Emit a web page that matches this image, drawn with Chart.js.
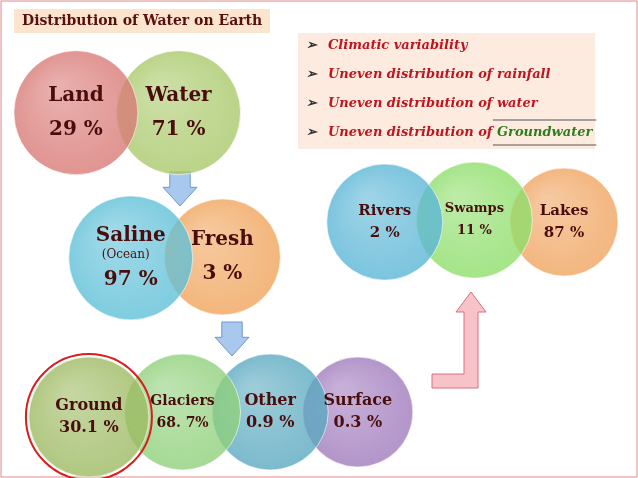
<!DOCTYPE html>
<html><head><meta charset="utf-8">
<script src="https://cdn.jsdelivr.net/npm/chart.js@4"></script>
<style>html,body{margin:0;padding:0;background:#fff}#wrap{width:638px;height:478px;position:relative}</style>
</head><body><div id="wrap"><canvas id="c"></canvas></div>
<script>
// data
const labels = ['Land','Water','Saline','Fresh','Ground','Glaciers','Other','Surface','Rivers','Swamps','Lakes'];
const values = ['29 %','71 %','97 %','3 %','30.1 %','68. 7%','0.9 %','0.3 %','2 %','11 %','87 %'];
const notes = ['Climatic variability','Uneven distribution of rainfall','Uneven distribution of water','Uneven distribution of '];

// layout
const pos = [[75,112,62],[178,112,62],[130,258,62],[222,257,58],[88,418,60],[182,413,58],[270,413,58],[358,413,55],[385,222,58],[475,220,58],[565,222,54]];
const cols = ['#d97a76','#a9c96a','#5fc0d8','#f0a45c','#9dba62','#8fd07a','#5aa9c0','#a07bbd','#5bb6d6','#8ede6a','#f0a460'];
const fs = [20,20,20,20,16,14,16,16,15,13,15];
const PAD = 62;

function grad(chart, i) {
  const xs = chart.scales.x, ys = chart.scales.y;
  if (!xs || !ys) return cols[i];
  const x = xs.getPixelForValue(pos[i][0]), y = ys.getPixelForValue(pos[i][1]), r = pos[i][2];
  if (!isFinite(x) || !isFinite(y)) return cols[i];
  const g = chart.ctx.createRadialGradient(x - r*0.3, y - r*0.4, r*0.1, x, y, r);
  g.addColorStop(0, cols[i] + '99'); g.addColorStop(1, cols[i] + 'cc');
  return g;
}

function arrowDown(ctx, x, y, w, h) {
  ctx.beginPath();
  ctx.moveTo(x - w*0.3, y); ctx.lineTo(x + w*0.3, y); ctx.lineTo(x + w*0.3, y + h*0.45);
  ctx.lineTo(x + w/2, y + h*0.45); ctx.lineTo(x, y + h); ctx.lineTo(x - w/2, y + h*0.45);
  ctx.lineTo(x - w*0.3, y + h*0.45); ctx.closePath();
  ctx.fillStyle = '#a9c8ee'; ctx.fill(); ctx.strokeStyle = '#6f96cf'; ctx.lineWidth = 1; ctx.stroke();
}

const deco = {
  id: 'deco',
  beforeDatasetsDraw(chart) {
    const ctx = chart.ctx;
    ctx.save();
    ctx.strokeStyle = '#e28a8a'; ctx.lineWidth = 1; ctx.strokeRect(1, 1, 636, 476);
    ctx.fillStyle = '#fbe5cf'; ctx.fillRect(14, 9, 256, 24);
    ctx.fillStyle = '#fdebe0'; ctx.fillRect(298, 33, 297, 116);
    ctx.font = 'bold 14px "DejaVu Serif"'; ctx.fillStyle = '#5a0f0f'; ctx.textBaseline = 'middle';
    ctx.fillText('Distribution of Water on Earth', 22, 21);
    ctx.font = 'italic bold 13px "DejaVu Serif"';
    notes.forEach((t, i) => {
      const y = 46 + i*29;
      ctx.fillStyle = '#333'; ctx.fillText('➢', 306, y);
      ctx.fillStyle = '#c0141e'; ctx.fillText(t, 328, y);
    });
    const gx = 328 + ctx.measureText(notes[3]).width;
    ctx.fillStyle = '#2e7d1a'; ctx.fillText('Groundwater', gx, 133);
    const gw = ctx.measureText('Groundwater').width;
    ctx.strokeStyle = '#555'; ctx.beginPath(); ctx.moveTo(gx - 4, 120); ctx.lineTo(gx + gw + 4, 120); ctx.moveTo(gx - 4, 145); ctx.lineTo(gx + gw + 4, 145); ctx.stroke();
    arrowDown(ctx, 180, 172, 34, 34);
    arrowDown(ctx, 232, 322, 34, 34);
    ctx.beginPath();
    ctx.moveTo(432, 374); ctx.lineTo(464, 374); ctx.lineTo(464, 312); ctx.lineTo(456, 312);
    ctx.lineTo(471, 292); ctx.lineTo(486, 312); ctx.lineTo(478, 312); ctx.lineTo(478, 388); ctx.lineTo(432, 388); ctx.closePath();
    ctx.fillStyle = '#f7c3c8'; ctx.fill(); ctx.strokeStyle = '#d9707d'; ctx.stroke();
    ctx.restore();
  },
  afterDatasetsDraw(chart) {
    const ctx = chart.ctx, xs = chart.scales.x, ys = chart.scales.y;
    ctx.save();
    ctx.textAlign = 'center'; ctx.textBaseline = 'middle'; ctx.fillStyle = '#4a0d0d';
    labels.forEach((l, i) => {
      const x = xs.getPixelForValue(pos[i][0]), y = ys.getPixelForValue(pos[i][1]);
      ctx.font = 'bold ' + fs[i] + 'px "DejaVu Serif"';
      let dy = fs[i] > 17 ? 17 : 11;
      if (i === 2) {
        ctx.fillText(l, x, y - 22);
        ctx.font = '12px "DejaVu Serif"'; ctx.fillText('(Ocean)', x - 5, y - 3);
        ctx.font = 'bold 20px "DejaVu Serif"'; ctx.fillText(values[i], x, y + 22);
      } else {
        ctx.fillText(l, x, y - dy);
        ctx.fillText(values[i], x, y + dy);
      }
    });
    ctx.beginPath(); ctx.arc(xs.getPixelForValue(88), ys.getPixelForValue(418), 63, 0, Math.PI*2);
    ctx.strokeStyle = '#d81e1e'; ctx.lineWidth = 2; ctx.stroke();
    ctx.restore();
  }
};

new Chart(document.getElementById('c'), {
  type: 'bubble',
  data: {
    datasets: labels.map((l, i) => ({
      label: l,
      data: [{x: pos[i][0], y: pos[i][1], r: pos[i][2]}],
      backgroundColor: c => grad(c.chart, i),
      borderColor: 'rgba(255,255,255,0.6)', borderWidth: 1,
      clip: false
    }))
  },
  options: {
    responsive: true, maintainAspectRatio: false, animation: false,
    layout: {padding: 0},
    scales: {
      x: {min: PAD, max: 638 - PAD, display: false},
      y: {min: PAD, max: 478 - PAD, reverse: true, display: false}
    },
    plugins: {legend: {display: false}, tooltip: {enabled: false}}
  },
  plugins: [deco]
});
</script></body></html>
